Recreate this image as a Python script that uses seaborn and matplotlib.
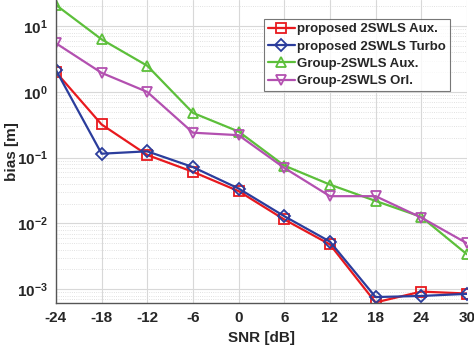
import numpy as np
import pandas as pd
import matplotlib
matplotlib.use("Agg")
import matplotlib.pyplot as plt
import seaborn as sns
from matplotlib.ticker import LogLocator, NullFormatter

snr = [-24, -18, -12, -6, 0, 6, 12, 18, 24, 30]
prop_aux = [2.0, 0.32, 0.11, 0.061, 0.031, 0.0115, 0.0048, 0.00063, 0.00092, 0.00086]
prop_turbo = [2.15, 0.115, 0.125, 0.072, 0.034, 0.0129, 0.0053, 0.00076, 0.00079, 0.00085]
group_aux = [21.0, 6.3, 2.5, 0.48, 0.25, 0.076, 0.039, 0.022, 0.0126, 0.0034]
group_orl = [5.5, 1.95, 1.0, 0.24, 0.22, 0.07, 0.026, 0.026, 0.0123, 0.005]

names = ["proposed 2SWLS Aux.", "proposed 2SWLS Turbo", "Group-2SWLS Aux.", "Group-2SWLS Orl."]
colors = ["#e8191e", "#2b3d9c", "#5cbf3a", "#b350b0"]
markers = ["s", "D", "^", "v"]

df = pd.DataFrame({"SNR": snr * 4,
                   "bias": prop_aux + prop_turbo + group_aux + group_orl,
                   "method": sum([[n] * len(snr) for n in names], [])})

sns.set_style("whitegrid")
plt.rcParams['font.family'] = ['Liberation Sans', 'DejaVu Sans']
plt.rcParams['axes.unicode_minus'] = False

fig = plt.figure(figsize=(4.74, 3.53), dpi=100)
ax = fig.add_axes([0.118, 0.142, 0.867, 0.858])

for name, c, m in zip(names, colors, markers):
    sub = df[df.method == name]
    sns.lineplot(data=sub, x="SNR", y="bias", ax=ax, color=c, marker=m,
                 markersize=7 if m != "D" else 6, markerfacecolor="none",
                 markeredgecolor=c, markeredgewidth=1.3, linewidth=1.6,
                 label=name)

ax.set_yscale("log")
ax.set_ylim(6.2e-4, 25)
ax.set_xlim(-24, 30)
ax.set_xticks(snr)
ax.yaxis.set_major_locator(LogLocator(base=10, numticks=10))
ax.yaxis.set_minor_locator(LogLocator(base=10, subs=np.arange(2, 10), numticks=20))
ax.yaxis.set_minor_formatter(NullFormatter())
ax.grid(which="major", color="#d8d8d8", linewidth=0.8, linestyle="-")
ax.grid(which="minor", axis="y", color="#d8d8d8", linewidth=0.6, linestyle=":")
for s in ["top", "right"]:
    ax.spines[s].set_visible(False)
for s in ["left", "bottom"]:
    ax.spines[s].set_color("#555555")
    ax.spines[s].set_linewidth(1.0)
ax.tick_params(axis="both", labelsize=11, length=3, color="#555555", pad=3)
for lab in ax.get_xticklabels() + ax.get_yticklabels():
    lab.set_fontweight("bold")

ax.set_xlabel("SNR [dB]", fontsize=11, fontweight="bold", labelpad=4)
ax.set_ylabel("bias [m]", fontsize=11, fontweight="bold")
ax.yaxis.set_label_coords(-0.09, 0.5)

leg = ax.legend(loc="upper right", bbox_to_anchor=(0.965, 0.945), fontsize=9.5,
                frameon=True, fancybox=False, edgecolor="#555555",
                handlelength=2.0, borderpad=0.3, labelspacing=0.38, handletextpad=0.2,
                borderaxespad=0.2)
leg.get_frame().set_linewidth(0.8)
for t in leg.get_texts():
    t.set_fontweight("bold")

fig.savefig("out.png", dpi=100)
